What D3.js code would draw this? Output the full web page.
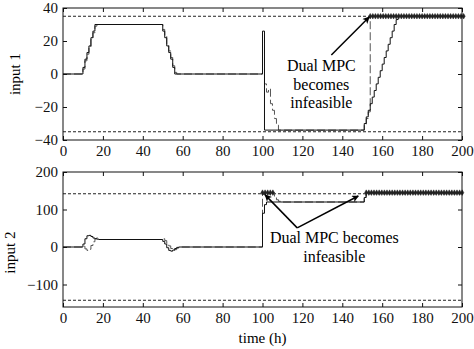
<!DOCTYPE html>
<html>
<head>
<meta charset="utf-8">
<script src="https://cdn.jsdelivr.net/npm/d3@7"></script>
<style>
  html, body { margin: 0; padding: 0; background: #fff; }
  svg { display: block; font-family: "Liberation Serif", "DejaVu Serif", serif; }
</style>
</head>
<body>
<svg id="chart" width="474" height="349"></svg>
<script>
// ---- data ----
const xTicks = [0, 20, 40, 60, 80, 100, 120, 140, 160, 180, 200];
const yTicks1 = [-40, -20, 0, 20, 40];
const yTicks2 = [-100, 0, 100, 200];
const limit1 = 35;    // input 1 bound
const limit2 = 142;   // input 2 bound

// input 1, standard MPC (solid)
const u1MpcTime = [0, 10, 11, 12, 13, 14, 15, 16, 50, 51, 52, 53, 54, 55, 56, 100, 101,
  151, 152, 153, 154, 155, 156, 157, 158, 159, 160, 161, 162, 163, 164, 165, 166, 167, 168, 200];
const u1MpcValue = [0, 4, 9, 13, 17, 22, 26, 30, 26, 22, 17, 13, 9, 4, 0, 26, -34,
  -30, -26, -22, -18, -14, -10, -6, -2, 2, 6, 10, 14, 18, 22, 26, 30, 33, 35, 35];

// input 1, dual MPC (dashed)
const u1DualTime = [0, 10, 11, 12, 13, 14, 15, 16, 17, 50, 51, 52, 53, 54, 55, 56, 57,
  100, 101, 102, 103, 104, 105, 106, 107, 108, 151, 152, 153, 154, 200];
const u1DualValue = [0, 3, 8, 12, 16, 21, 25, 29, 30, 27, 23, 18, 14, 10, 5, 1, 0,
  24, -6, -11, -9, -18, -22, -27, -31, -34, -31, -27, -23, 35, 35];

// input 1, saturated samples (markers)
const u1SatTime = d3.range(154, 201, 1.3);
const u1SatValue = u1SatTime.map(() => 35);

// input 2, standard MPC (solid)
const u2MpcTime = [0, 10, 11, 12, 13, 14, 15, 16, 17, 18, 50, 51, 52, 53, 54, 55, 56, 57, 58,
  100, 101, 102, 151, 152, 200];
const u2MpcValue = [0, 8, 22, 30, 31, 28, 24, 22, 21, 20, 15, 8, -2, -9, -11, -8, -4, -1, 0,
  90, 113, 120, 132, 145, 145];

// input 2, dual MPC (dashed)
const u2DualTime = [0, 10, 11, 12, 13, 14, 15, 16, 17, 18, 50, 51, 52, 53, 54, 55, 56, 57, 58,
  100, 101, 106, 107, 108, 109, 150, 151, 152, 200];
const u2DualValue = [0, 2, -5, -9, -6, 4, 14, 22, 25, 20, 22, 17, 10, 3, -4, -9, -7, -3, 0,
  140, 145, 135, 126, 122, 120, 120, 136, 145, 145];

// input 2, saturated samples (markers)
const u2SatTime = d3.range(100, 106, 1.3).concat(d3.range(152, 201, 1.3));
const u2SatValue = u2SatTime.map(() => 145);

const annot1 = ["Dual MPC", "becomes", "infeasible"];
const annot2 = ["Dual MPC becomes", "infeasible"];

// ---- layout ----
const svg = d3.select("#chart");
const x = d3.scaleLinear().domain([0, 200]).range([63, 462]);
const y1 = d3.scaleLinear().domain([-40, 40]).range([140, 8]);
const y2 = d3.scaleLinear().domain([-160, 200]).range([307, 172]);

const fontSize = 15;

function zip(ts, vs) { return ts.map((t, i) => [t, vs[i]]); }

function panel(y, yTicks, limit, series, sat) {
  const g = svg.append("g");
  const [y0, yTop] = y.range();

  // bound lines
  [limit, -limit].forEach(v => {
    g.append("line")
      .attr("x1", x(0)).attr("x2", x(200))
      .attr("y1", y(v)).attr("y2", y(v))
      .attr("stroke", "#222").attr("stroke-width", 1)
      .attr("stroke-dasharray", "3,2");
  });

  // trajectories
  series.forEach(s => {
    const line = d3.line().x(d => x(d[0])).y(d => y(d[1])).curve(d3.curveStepAfter);
    g.append("path")
      .datum(zip(s.t, s.v))
      .attr("d", line)
      .attr("fill", "none")
      .attr("stroke", s.color)
      .attr("stroke-width", s.width)
      .attr("stroke-dasharray", s.dash || null);
  });

  // saturated samples
  const sym = d3.symbol().type(d3.symbolDiamond).size(9);
  g.append("g").selectAll("path")
    .data(zip(sat.t, sat.v))
    .join("path")
    .attr("transform", d => `translate(${x(d[0])},${y(d[1])})`)
    .attr("d", sym)
    .attr("fill", "#222")
    .attr("stroke", "#222")
    .attr("stroke-width", 0.5);

  // axes with inward ticks
  const fmt = d => d < 0 ? "\u2212" + Math.abs(d) : String(d);
  const bottom = g.append("g").attr("transform", `translate(0,${y0})`)
    .call(d3.axisBottom(x).tickValues(xTicks).tickSize(-4).tickPadding(5).tickFormat(fmt));
  const top = g.append("g").attr("transform", `translate(0,${yTop})`)
    .call(d3.axisTop(x).tickValues(xTicks).tickSize(-4).tickFormat(""));
  const left = g.append("g").attr("transform", `translate(${x(0)},0)`)
    .call(d3.axisLeft(y).tickValues(yTicks).tickSize(-4).tickPadding(5).tickFormat(fmt));
  const right = g.append("g").attr("transform", `translate(${x(200)},0)`)
    .call(d3.axisRight(y).tickValues(yTicks).tickSize(-4).tickFormat(""));
  [bottom, top, left, right].forEach(a => {
    a.select(".domain").remove();
    a.selectAll("line").attr("stroke", "#111");
    a.selectAll("text").attr("fill", "#111").style("font-size", fontSize + "px")
      .style("font-family", "'Liberation Serif', serif");
  });

  // frame
  g.append("rect")
    .attr("x", x(0)).attr("y", yTop)
    .attr("width", x(200) - x(0)).attr("height", y0 - yTop)
    .attr("fill", "none").attr("stroke", "#111").attr("stroke-width", 1);
  return g;
}

panel(y1, yTicks1, limit1, [
  { t: u1DualTime, v: u1DualValue, color: "#555", width: 1, dash: "8,3" },
  { t: u1MpcTime, v: u1MpcValue, color: "#111", width: 1 }
], { t: u1SatTime, v: u1SatValue });

panel(y2, yTicks2, limit2, [
  { t: u2DualTime, v: u2DualValue, color: "#555", width: 1, dash: "8,3" },
  { t: u2MpcTime, v: u2MpcValue, color: "#111", width: 1 }
], { t: u2SatTime, v: u2SatValue });

// axis titles
svg.append("text").attr("transform", `translate(20,${y1(0)}) rotate(-90)`)
  .attr("text-anchor", "middle").style("font-size", fontSize + "px").text("input 1");
svg.append("text").attr("transform", `translate(15,${y2(-15)}) rotate(-90)`)
  .attr("text-anchor", "middle").style("font-size", fontSize + "px").text("input 2");
svg.append("text").attr("x", (x(0) + x(200)) / 2).attr("y", 343)
  .attr("text-anchor", "middle").style("font-size", fontSize + "px").text("time (h)");

// annotations
svg.append("defs").append("marker")
  .attr("id", "head").attr("viewBox", "0 0 10 10").attr("refX", 9).attr("refY", 5)
  .attr("markerWidth", 9).attr("markerHeight", 7).attr("orient", "auto")
  .attr("markerUnits", "userSpaceOnUse")
  .append("path").attr("d", "M0,0 L10,5 L0,10 L2.5,5 Z").attr("fill", "#000");

function arrow(ys, from, to) {
  svg.append("line")
    .attr("x1", x(from[0])).attr("y1", ys(from[1]))
    .attr("x2", x(to[0])).attr("y2", ys(to[1]))
    .attr("stroke", "#000").attr("stroke-width", 1.5)
    .attr("marker-end", "url(#head)");
}

arrow(y1, [134.5, 11.5], [153.5, 34.5]);
annot1.forEach((s, i) => {
  svg.append("text").attr("x", x(129.5)).attr("y", 71 + i * 18.7)
    .attr("text-anchor", "middle").style("font-size", "16px").text(s);
});

arrow(y2, [117.4, 51], [101.3, 139]);
arrow(y2, [117.4, 51], [148, 136]);
annot2.forEach((s, i) => {
  svg.append("text").attr("x", x(136)).attr("y", 243 + i * 19.3)
    .attr("text-anchor", "middle").style("font-size", "16px").text(s);
});
</script>
</body>
</html>
